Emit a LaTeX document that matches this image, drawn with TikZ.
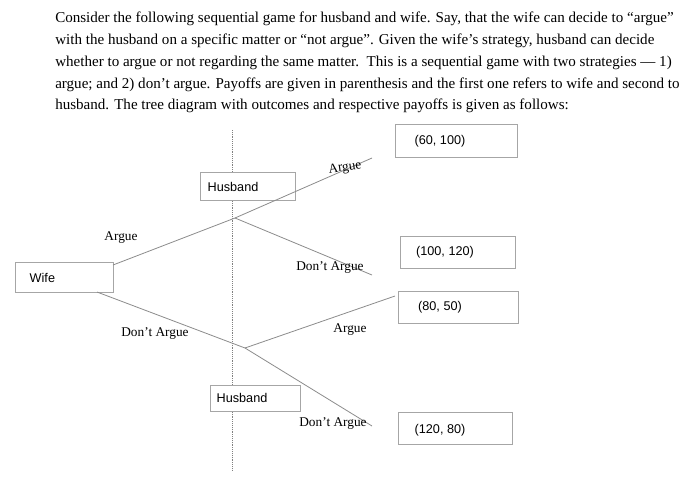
\documentclass[tikz,border=0pt]{standalone}
\usepackage{fontspec}
\setmainfont{Liberation Serif}
\newfontfamily\sansf{Liberation Sans}
\begin{document}
\begin{tikzpicture}[x=0.75pt,y=-0.75pt,
  pbox/.style={draw=gray!70,line width=0.6pt,fill=white},
  lbl/.style={font=\fontsize{10}{11}\selectfont},
  slbl/.style={font=\sansf\fontsize{9.5}{11}\selectfont},
  br/.style={draw=gray!90,line width=0.6pt}]
\useasboundingbox[fill=white] (0,0) rectangle (700,490);
\node[anchor=north west,align=left,inner sep=0pt,font=\fontsize{11.3}{16.3}\selectfont] (txt) at (55,12)
{Consider the following sequential game for husband and wife. Say, that the wife can decide to “argue”\\
with the husband on a specific matter or “not argue”. Given the wife’s strategy, husband can decide\\
whether to argue or not regarding the same matter.\ \ This is a sequential game with two strategies — 1)\\
argue; and 2) don’t argue. Payoffs are given in parenthesis and the first one refers to wife and second to\\
husband. The tree diagram with outcomes and respective payoffs is given as follows:};
\coordinate (vt) at (232,130);
\coordinate (vb) at (232,470);
\draw[densely dotted,gray] (vt) -- (vb);
\node[pbox,minimum width=98pt*0.75,minimum height=30pt*0.75,anchor=north west,inner sep=0pt] (wife) at (15,262) {};
\node[slbl,anchor=west] at (25,278) {Wife};
\node[pbox,minimum width=95pt*0.75,minimum height=28pt*0.75,anchor=north west] (h1) at (200,172) {};
\node[slbl] at (233,187) {Husband};
\node[pbox,minimum width=90pt*0.75,minimum height=26pt*0.75,anchor=north west] (h2) at (210,385) {};
\node[slbl] at (242,398) {Husband};
\node[pbox,minimum width=122pt*0.75,minimum height=33pt*0.75,anchor=north west] (p1) at (395,124) {};
\node[slbl] at (440,141) {(60, 100)};
\node[pbox,minimum width=115pt*0.75,minimum height=32pt*0.75,anchor=north west] (p2) at (400,236) {};
\node[slbl] at (445,252) {(100, 120)};
\node[pbox,minimum width=120pt*0.75,minimum height=32pt*0.75,anchor=north west] (p3) at (398,291) {};
\node[slbl] at (440,307) {(80, 50)};
\node[pbox,minimum width=114pt*0.75,minimum height=32pt*0.75,anchor=north west] (p4) at (398,412) {};
\node[slbl] at (440,430) {(120, 80)};
\coordinate (w1) at (113,265);
\coordinate (w2) at (97,292);
\coordinate (j1) at (235,218);
\coordinate (j2) at (245,348);
\coordinate (a1) at (372,158);
\coordinate (a2) at (372,275);
\coordinate (a3) at (395,296);
\coordinate (a4) at (372,426);
\draw[br] (w1) -- (j1);
\draw[br] (w2) -- (j2);
\draw[br] (j1) -- (a1);
\draw[br] (j1) -- (a2);
\draw[br] (j2) -- (a3);
\draw[br] (j2) -- (a4);
\node[lbl] at (121,238) {Argue};
\node[lbl] at (155,333) {Don’t Argue};
\node[lbl,rotate=8] at (345,168) {Argue};
\node[lbl] at (330,267) {Don’t Argue};
\node[lbl] at (350,330) {Argue};
\node[lbl] at (333,423) {Don’t Argue};
\end{tikzpicture}
\end{document}
